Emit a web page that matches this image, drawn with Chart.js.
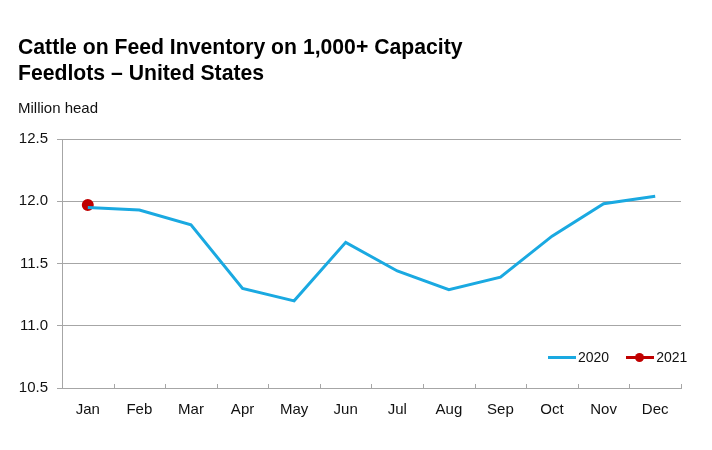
<!DOCTYPE html>
<html>
<head>
<meta charset="utf-8">
<script src="https://cdn.jsdelivr.net/npm/chart.js@4.4.1/dist/chart.umd.min.js"></script>
<style>
  body { margin: 0; background: #fff; font-family: "Liberation Sans", Arial, sans-serif; }
  #wrap { position: relative; width: 712px; height: 450px; }
  #title { position: absolute; left: 18px; top: 34px; font-size: 21.2px; font-weight: bold; line-height: 26px; color: #000; }
  #unit { position: absolute; left: 18px; top: 99px; font-size: 15px; color: #111; }
  #legend { position: absolute; left: 548px; top: 349px; font-size: 14px; color: #111; display: flex; align-items: center; }
  .item { display: flex; align-items: center; margin-right: 17px; }
  .ln { display: inline-block; width: 28px; height: 3px; margin-right: 2px; position: relative; }
  .dot { position: absolute; left: 9px; top: -3px; width: 9px; height: 9px; border-radius: 50%; background: #C00000; }
  canvas { position: absolute; left: 0; top: 0; }
</style>
</head>
<body>
<div id="wrap">
  <canvas id="chart" width="712" height="450"></canvas>
  <div id="title">Cattle on Feed Inventory on 1,000+ Capacity<br>Feedlots – United States</div>
  <div id="unit">Million head</div>
  <div id="legend">
    <div class="item"><span class="ln" style="background:#1AA9E1"></span>2020</div>
    <div class="item"><span class="ln" style="background:#C00000"><span class="dot"></span></span>2021</div>
  </div>
</div>
<script>
// data
const months = ['Jan', 'Feb', 'Mar', 'Apr', 'May', 'Jun', 'Jul', 'Aug', 'Sep', 'Oct', 'Nov', 'Dec'];
const inv2020 = [11.95, 11.93, 11.81, 11.30, 11.20, 11.67, 11.44, 11.29, 11.39, 11.72, 11.98, 12.04];
const inv2021 = [11.97, null, null, null, null, null, null, null, null, null, null, null];
const yTicks = [10.5, 11.0, 11.5, 12.0, 12.5];

const gridGray = '#A6A6A6';

// small upward tick marks between months, like the original
const catTicks = {
    id: 'catTicks',
    afterDraw(chart) {
        const x = chart.scales.x;
        const c = chart.ctx;
        const bottom = chart.chartArea.bottom;
        const step = x.getPixelForValue(1) - x.getPixelForValue(0);
        c.save();
        c.strokeStyle = gridGray;
        c.lineWidth = 1;
        for (let i = 0; i <= months.length; i++) {
            const px = Math.round(x.getPixelForValue(i) - step / 2) + 0.5;
            c.beginPath();
            c.moveTo(px, bottom);
            c.lineTo(px, bottom - 4);
            c.stroke();
        }
        c.restore();
    }
};

new Chart(document.getElementById('chart'), {
    type: 'line',
    data: {
        labels: months,
        datasets: [{
            label: '2020',
            data: inv2020,
            borderColor: '#1AA9E1',
            backgroundColor: '#1AA9E1',
            borderWidth: 3,
            pointRadius: 0,
            tension: 0
        }, {
            label: '2021',
            data: inv2021,
            borderColor: '#C00000',
            backgroundColor: '#C00000',
            borderWidth: 3,
            pointRadius: 4.5,
            pointHoverRadius: 4.5
        }]
    },
    options: {
        responsive: false,
        animation: false,
        layout: { padding: { left: 18, right: 31, top: 139, bottom: 22 } },
        plugins: {
            legend: { display: false },
            tooltip: { enabled: false }
        },
        scales: {
            x: {
                offset: true,
                grid: { display: false },
                border: { color: gridGray, width: 1 },
                ticks: { color: '#111', padding: 5, font: { family: 'Liberation Sans', size: 15 } },
                afterFit: s => { s.height = 40; }
            },
            y: {
                min: 10.5,
                max: 12.5,
                afterBuildTicks: s => { s.ticks = yTicks.map(v => ({ value: v })); },
                grid: { color: gridGray, lineWidth: 1, tickLength: 5 },
                border: { color: gridGray, width: 1 },
                ticks: {
                    color: '#111',
                    padding: 9,
                    font: { family: 'Liberation Sans', size: 15 },
                    callback: v => v.toFixed(1)
                },
                afterFit: s => { s.width = 44; }
            }
        }
    },
    plugins: [catTicks]
});
</script>
</body>
</html>
